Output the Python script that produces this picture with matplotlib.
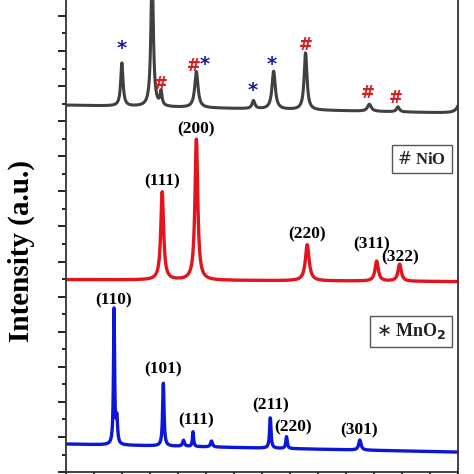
import numpy as np
import matplotlib.pyplot as plt
from matplotlib.ticker import MultipleLocator

# peak positions (2theta) and heights for each pattern
comp_pos = [20.0, 25.4, 27.0, 33.3, 43.5, 47.1, 52.8, 64.2, 69.3]
comp_amp = [43, 140, 14, 36, 8, 38, 57, 7, 5]
comp_wid = [0.25, 0.25, 0.2, 0.35, 0.3, 0.35, 0.3, 0.4, 0.3]

nio_pos = [27.2, 33.3, 53.1, 65.5, 69.6]
nio_amp = [88, 141, 36, 20, 17]
nio_wid = [0.3, 0.3, 0.4, 0.35, 0.35]

mno_pos = [18.6, 19.1, 27.4, 31.0, 32.7, 36.0, 46.5, 49.4, 62.5]
mno_amp = [135, 25, 63, 6, 15, 6, 31, 12, 10]
mno_wid = [0.12, 0.15, 0.15, 0.2, 0.12, 0.2, 0.15, 0.15, 0.25]

nio_labels = [(27.2, 290, '(111)'), (33.3, 342, '(200)'), (53.1, 237, '(220)'),
              (64.6, 227, '(311)'), (69.6, 214, '(322)')]
mno_labels = [(18.6, 171, '(110)'), (27.4, 102, '(101)'), (33.2, 52, '(111)'),
              (46.5, 67, '(211)'), (50.6, 45, '(220)'), (62.3, 42, '(301)')]
# phase markers over the composite pattern
marks = [(20.0, 422, '*'), (27.0, 387, '#'), (32.8, 405, '#'), (34.8, 407, '*'),
         (43.3, 381, '*'), (46.8, 407, '*'), (52.8, 426, '#'), (64.0, 378, '#'),
         (68.9, 373, '#')]

x = np.linspace(10, 80, 1400)

def pattern(base0, base1, pos, amp, wid):
    y = np.linspace(base0, base1, x.size)
    for p, a, w in zip(pos, amp, wid):
        y = y + a / (1 + ((x - p) / w) ** 2)
    return y

y_comp = pattern(366, 358, comp_pos, comp_amp, comp_wid)
y_comp = y_comp + 12 / (1 + ((x - 80.5) / 0.6) ** 2)
y_nio = pattern(192, 190, nio_pos, nio_amp, nio_wid)
y_mno = pattern(28, 20, mno_pos, mno_amp, mno_wid)

fig = plt.figure(figsize=(4.74, 4.74), dpi=100)
ax = fig.add_axes([0.139, 0.004, 0.827, 1.1])
ax.plot(x, y_comp, color='#404040', lw=2.2)
ax.plot(x, y_nio, color='#e3141c', lw=2.4)
ax.plot(x, y_mno, color='#0c16d6', lw=2.4)
ax.set_xlim(10, 80)
ax.set_ylim(0, 520)
ax.xaxis.set_major_locator(MultipleLocator(10))
ax.xaxis.set_minor_locator(MultipleLocator(5))
ax.yaxis.set_major_locator(MultipleLocator(35))
ax.yaxis.set_minor_locator(MultipleLocator(17.5))
ax.tick_params(which='both', direction='out', labelleft=False, labelbottom=False, width=1.2)
ax.tick_params(which='major', length=6)
ax.tick_params(which='minor', length=3)
for s in ax.spines.values():
    s.set_linewidth(1.3)
    s.set_color('#333333')

fs = dict(fontsize=12.5, fontweight='bold', ha='center', va='center', family='Liberation Serif')
for xx, yy, t in nio_labels + mno_labels:
    ax.text(xx, yy, t, **fs)
for xx, yy, t in marks:
    c = '#1a1aa0' if t == '*' else '#d42020'
    ax.text(xx, yy, t, color=c, fontsize=14 if t == '*' else 12, fontweight='bold',
            ha='center', va='center')

ax.text(0.97, 0.60, r'$\#$ NiO', transform=ax.transAxes, ha='right', va='center',
        fontsize=12, fontweight='bold', family='Liberation Serif', color='#222222',
        bbox=dict(facecolor='white', edgecolor='#555555', pad=4))
ax.text(0.97, 0.27, r'$\ast$ MnO$_\mathbf{2}$', transform=ax.transAxes, ha='right', va='center',
        fontsize=13, fontweight='bold', family='Liberation Serif', color='#222222',
        bbox=dict(facecolor='white', edgecolor='#555555', pad=4))

fig.text(0.045, 0.47, 'Intensity (a.u.)', rotation=90, ha='center', va='center',
         fontsize=21, fontweight='bold', family='Liberation Serif')
fig.savefig('out.png', dpi=100)
